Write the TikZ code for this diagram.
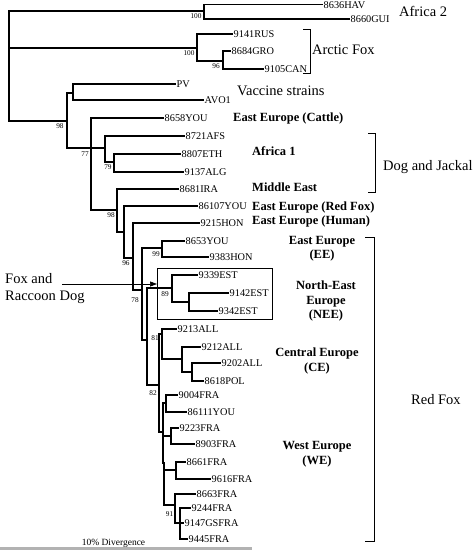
\documentclass[tikz,border=0pt]{standalone}
\usepackage{fontspec}
\setmainfont{Liberation Serif}
\usetikzlibrary{arrows.meta}
\begin{document}
\begin{tikzpicture}[x=1pt,y=-1pt,
 br/.style={line width=1.5pt, line cap=rect},
 leaf/.style={font=\fontsize{10.3}{11}\selectfont, inner sep=1.5pt, anchor=west},
 bs/.style={font=\fontsize{7.3}{8}\selectfont, inner sep=0pt},
 grp/.style={font=\fontsize{14.5}{16}\selectfont, inner sep=0pt, anchor=west},
 reg/.style={font=\bfseries\fontsize{12.5}{14}\selectfont, inner sep=0pt, align=center},
 regw/.style={font=\bfseries\fontsize{12.5}{14}\selectfont, inner sep=0pt, anchor=west},
 brk/.style={line width=0.9pt},
 box/.style={line width=0.8pt}]
\useasboundingbox (0,0) rectangle (474,550);
% leaves: name, x start, x end, y, text
\newcommand\leafnode[5]{\node[leaf] (#1) at (#3,#4) {#5}; \draw[br] (#2,#4) -- (#1.west);}
\node[leaf, anchor=north west, inner sep=0.5pt] (hav) at (323,0.5) {8636HAV};
\draw[br] (204,4.5) -- (322,4.5);
\leafnode{gui}{204}{349}{19}{8660GUI}
\leafnode{rus}{197}{232}{34}{9141RUS}
\leafnode{gro}{223}{230}{51}{8684GRO}
\leafnode{can}{223}{263}{69}{9105CAN}
\leafnode{pv}{73}{175}{84}{PV}
\leafnode{avo}{73}{203}{100}{AVO1}
\leafnode{youA}{91}{163}{118}{8658YOU}
\leafnode{afs}{105}{184}{136}{8721AFS}
\leafnode{eth}{114}{180}{154}{8807ETH}
\leafnode{alg}{114}{183}{172}{9137ALG}
\leafnode{ira}{117}{178}{189}{8681IRA}
\leafnode{youB}{124}{197}{206}{86107YOU}
\leafnode{honA}{133}{199}{223}{9215HON}
\leafnode{youC}{162}{184}{241}{8653YOU}
\leafnode{honB}{162}{208}{257}{9383HON}
\leafnode{estA}{172}{197}{275}{9339EST}
\leafnode{estB}{189}{228}{293}{9142EST}
\leafnode{estC}{189}{217}{311}{9342EST}
\leafnode{allA}{162}{176}{329}{9213ALL}
\leafnode{allB}{182}{200}{347}{9212ALL}
\leafnode{allC}{192}{220}{363}{9202ALL}
\leafnode{pol}{192}{203}{381}{8618POL}
\leafnode{fraA}{166}{177}{395}{9004FRA}
\leafnode{youD}{166}{186}{412}{86111YOU}
\leafnode{fraB}{171}{178}{428}{9223FRA}
\leafnode{fraC}{171}{194}{444}{8903FRA}
\leafnode{fraD}{176}{185}{462}{8661FRA}
\leafnode{fraE}{176}{210}{479}{9616FRA}
\leafnode{fraF}{175}{195}{494}{8663FRA}
\leafnode{fraG}{180}{190}{508}{9244FRA}
\leafnode{gs}{180}{183}{523}{9147GSFRA}
\leafnode{fraH}{180}{187}{539}{9445FRA}
% internal verticals
\foreach \x/\a/\b in {9/11/121, 204/4.5/19, 197/34/61, 223/51/69, 67/93/148, 73/84/100,
  91/118/210, 105/136/162, 114/154/172, 117/189/232, 124/206/258, 133/223/290,
  142/248/340, 162/241/257, 147/288/385, 172/275/302, 189/293/311, 162/329/359,
  182/347/372, 192/363/381, 159/334/432, 163/403/463, 166/395/412, 171/428/444,
  164/463/505, 176/462/479, 175/494/523, 180/508/539}
  \draw[br] (\x,\a) -- (\x,\b);
% internal horizontals
\foreach \y/\a/\b in {11/9/204, 48/9/197, 61/197/223, 121/9/67, 93/67/73, 148/67/105,
  162/105/114, 210/91/117, 232/117/124, 258/124/133, 290/133/142, 248/142/162,
  340/142/147, 288/147/172, 302/172/189, 385/147/159, 334/159/162, 359/162/182,
  372/182/192, 432/159/163, 403/163/166, 436/163/171, 463/163/164, 470/164/176,
  505/164/175, 523/175/180}
  \draw[br] (\a,\y) -- (\b,\y);
% bootstrap values
\node[bs] (b1) at (196,16) {100};
\node[bs] (b2) at (189,53) {100};
\node[bs] (b3) at (216,66) {96};
\node[bs] (b4) at (60,126) {98};
\node[bs] (b5) at (85,154) {77};
\node[bs] (b6) at (108,167) {79};
\node[bs] (b7) at (111,215) {98};
\node[bs] (b8) at (126,263) {96};
\node[bs] (b9) at (156,254) {99};
\node[bs] (b10) at (135,300) {78};
\node[bs] (b11) at (165,294) {89};
\node[bs] (b12) at (155,338) {81};
\node[bs] (b13) at (153,393) {82};
\node[bs] (b14) at (169.5,514) {91};
% box around NEE
\draw[box] (157,268) rectangle (272,319);
\coordinate (boxin) at (157,284);
% group labels
\node[grp] (gaf2) at (399,11) {Africa 2};
\node[grp] (garc) at (312,50) {Arctic Fox};
\node[grp] (gvac) at (237,91) {Vaccine strains};
\node[grp] (gdog) at (383,167) {Dog and Jackal};
\node[grp] (gred) at (411,400) {Red Fox};
\node[font=\fontsize{14.5}{17}\selectfont, inner sep=0pt, align=left, anchor=north west] (gfox) at (5,273) {Fox and\\Raccoon Dog};
\coordinate (arrs) at (62,284);
\draw[line width=0.7pt, -{Triangle[length=7pt,width=5pt]}] (arrs) -- (boxin);
% region labels
\node[regw] (rcat) at (233,118) {East Europe (Cattle)};
\node[regw] (raf1) at (252,151) {Africa 1};
\node[regw] (rme) at (252,187) {Middle East};
\node[regw] (rrf) at (252,207) {East Europe (Red Fox)};
\node[regw] (rhu) at (252,221) {East Europe (Human)};
\node[reg] (ree) at (322,248.5) {East Europe\\(EE)};
\node[reg, font=\bfseries\fontsize{12.5}{14.5}\selectfont] (rnee) at (326,301) {North-East\\Europe\\(NEE)};
\node[reg, font=\bfseries\fontsize{12.5}{15}\selectfont] (rce) at (317,360.5) {Central Europe\\(CE)};
\node[reg, font=\bfseries\fontsize{12.5}{15}\selectfont] (rwe) at (317,454.5) {West Europe\\(WE)};
% brackets
\draw[brk] (303,29) -- (310,29) -- (310,73) -- (303,73);
\draw[brk] (368,133) -- (375,133) -- (375,192) -- (368,192);
\draw[brk] (365,237) -- (374,237) -- (374,541) -- (365,541);
% scale
\node[font=\fontsize{9.5}{10}\selectfont, inner sep=0pt] (scl) at (113.5,543) {10\% Divergence};
\draw[line width=3pt, gray!60] (0,548.5) -- (252,548.5);
\end{tikzpicture}
\end{document}
